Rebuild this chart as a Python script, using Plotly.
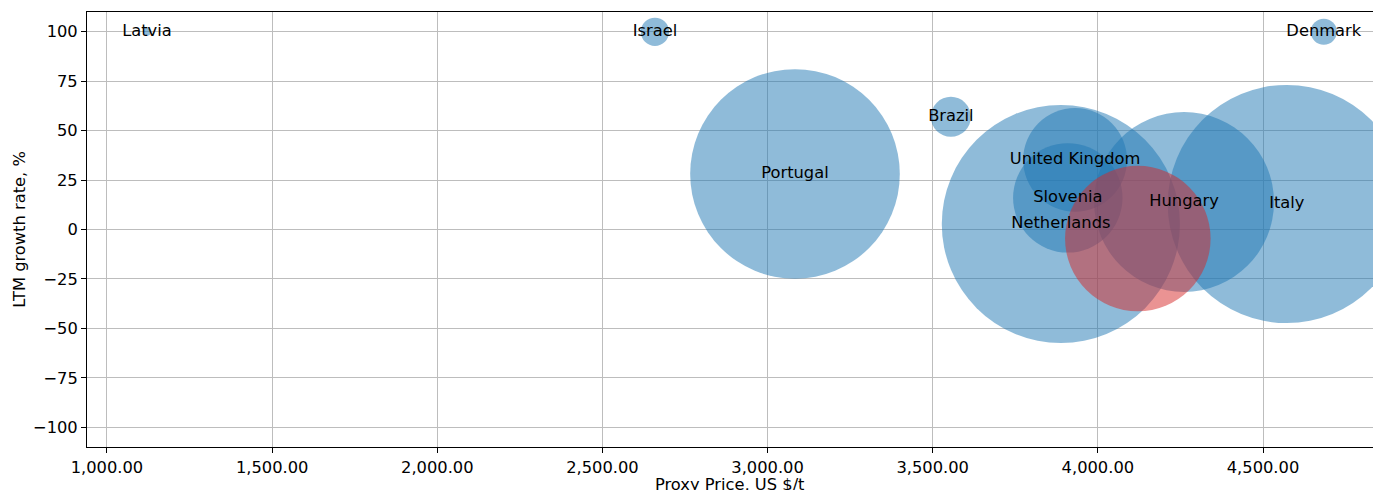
"""Bubble chart: proxy price vs LTM growth rate by country."""

import numpy as np
import plotly.graph_objects as go

# Supplier countries (blue bubbles)
countries = [
    "Latvia", "Israel", "Denmark", "Brazil", "Portugal", "Netherlands",
    "United Kingdom", "Slovenia", "Hungary", "Italy",
]
proxy_price = [1121, 2659, 4684, 3555, 3083, 3888, 3931, 3909, 4261, 4572]
growth_rate = [100, 100, 100, 57, 28.1, 2.8, 35.2, 16.0, 13.9, 12.9]
volume = [1.6, 20, 17, 40, 1100, 1420, 270, 300, 810, 1420]

# Highlighted (unlabelled) bubble
focus_price = [4121]
focus_growth = [-4.6]
focus_volume = [530]

FONT = "DejaVu Sans"
BLUE = "rgba(31, 119, 180, 0.5)"
RED = "rgba(214, 39, 40, 0.5)"
SIZE_SCALE = 6.32  # pixel diameter per sqrt(volume unit)

fig = go.Figure()
fig.add_trace(
    go.Scatter(
        x=proxy_price,
        y=growth_rate,
        mode="markers",
        marker={
            "size": np.sqrt(volume) * SIZE_SCALE,
            "sizemode": "diameter",
            "color": BLUE,
            "opacity": 1,
            "line": {"width": 0},
        },
        hovertext=countries,
        showlegend=False,
    )
)
fig.add_trace(
    go.Scatter(
        x=focus_price,
        y=focus_growth,
        mode="markers",
        marker={
            "size": np.sqrt(focus_volume) * SIZE_SCALE,
            "sizemode": "diameter",
            "color": RED,
            "opacity": 1,
            "line": {"width": 0},
        },
        showlegend=False,
    )
)
# labels on top of every bubble
fig.add_trace(
    go.Scatter(
        x=proxy_price,
        y=growth_rate,
        mode="text",
        text=countries,
        textposition="middle center",
        textfont={"family": FONT, "size": 16.3, "color": "black"},
        showlegend=False,
        hoverinfo="skip",
    )
)

axis_common = dict(
    showline=True,
    mirror=True,
    linecolor="black",
    linewidth=1,
    showgrid=True,
    gridcolor="#bdbdbd",
    gridwidth=1,
    zeroline=False,
    ticks="outside",
    ticklen=5,
    tickcolor="black",
    tickfont={"family": FONT, "size": 16.3, "color": "black"},
    automargin=False,
)

fig.update_layout(
    width=1373,
    height=490,
    margin={"l": 87, "r": 0, "t": 12, "b": 43},
    paper_bgcolor="white",
    plot_bgcolor="white",
    font={"family": FONT, "size": 16.3, "color": "black"},
    xaxis=dict(
        axis_common,
        range=[939.5, 4833],
        tick0=1000,
        dtick=500,
        tickformat=",.2f",
    ),
    yaxis=dict(
        axis_common,
        range=[-110, 110],
        tickvals=[-100, -75, -50, -25, 0, 25, 50, 75, 100],
        title={"text": "LTM growth rate, %", "standoff": 3,
               "font": {"family": FONT, "size": 16.3}},
    ),
    # x title as an annotation so it can sit partly below the page edge
    annotations=[
        {
            "text": "Proxy Price, US $/t",
            "xref": "paper",
            "yref": "paper",
            "x": 0.5,
            "y": 0,
            "xanchor": "center",
            "yanchor": "top",
            "yshift": -26,
            "showarrow": False,
            "font": {"family": FONT, "size": 16.3, "color": "black"},
        }
    ],
)

# drop the default page margin so the figure fills the window exactly
fig.write_html(
    "out.html",
    config={"displayModeBar": False},
    post_script="document.body.style.margin='0';document.body.style.overflow='hidden';",
)
